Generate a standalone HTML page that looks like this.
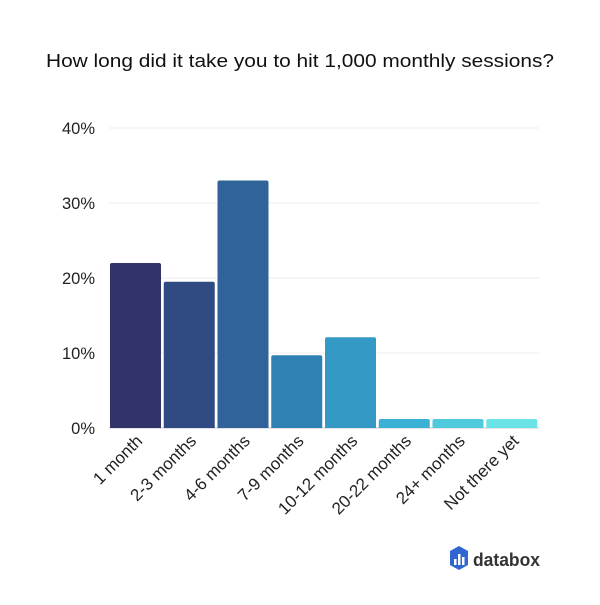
<!DOCTYPE html>
<html><head><meta charset="utf-8"><style>
body{margin:0;background:#fff;font-family:"Liberation Sans",sans-serif}
svg text{font-family:"Liberation Sans",sans-serif}
</style></head><body>
<svg width="600" height="600" viewBox="0 0 600 600">
<text x="300" y="67" text-anchor="middle" font-size="18.5" textLength="508" lengthAdjust="spacingAndGlyphs" fill="#111">How long did it take you to hit 1,000 monthly sessions?</text>
<g id="grid"></g><g id="bars"></g><g id="xl"></g>
<g>
<polygon points="450,551 459,546 468,551 468,565 459,570 450,565" fill="#2f66d0"/>
<rect x="454" y="559" width="2.5" height="6" fill="#fff"/><rect x="458" y="554" width="2.5" height="11" fill="#fff"/><rect x="462" y="557" width="2.5" height="8" fill="#fff"/>
<text x="473" y="566" font-size="18" font-weight="bold" textLength="67" lengthAdjust="spacingAndGlyphs" fill="#333">databox</text>
</g>
</svg>
<script>
const categories=["1 month","2-3 months","4-6 months","7-9 months","10-12 months","20-22 months","24+ months","Not there yet"];
const values=[22,19.5,33,9.7,12.1,1.2,1.2,1.2];
const ticks=[0,10,20,30,40];
const colors=["#31336a","#2f4b82","#2f6399","#2f80b3","#3499c4","#3ab1d4","#4fc9dc","#6be3e6"];
const NS="http://www.w3.org/2000/svg";
const y=v=>428-v*7.5;
const x0=109,step=53.75,bw=51;
function mk(t,a,p){const e=document.createElementNS(NS,t);for(const k in a)e.setAttribute(k,a[k]);p.appendChild(e);return e;}
const g=document.getElementById('grid');
ticks.forEach(t=>{
 const l=mk('line',{x1:109,x2:539,y1:y(t),y2:y(t),stroke:t?"#eeeeee":"#c8c8d0","stroke-width":1},g);
 
 
 const tx=mk('text',{x:95,y:y(t)+6,"text-anchor":"end","font-size":16.5,fill:"#222"},g);
 tx.textContent=t+"%";
 
 
});
const b=document.getElementById('bars'),xl=document.getElementById('xl');
values.forEach((v,i)=>{
 const x=x0+i*step+1;
 const r=mk('path',{d:`M${x},428V${y(v)+2}q0,-2 2,-2h${bw-4}q2,0 2,2V428Z`,fill:colors[i]},b);
 
 
 const cx=x+bw/2+8;
 const t=mk('text',{x:cx,y:442,"text-anchor":"end","font-size":17,fill:"#222",transform:`rotate(-45 ${cx} 442)`},xl);
 t.textContent=categories[i];
 
 
});
</script>
</body></html>
